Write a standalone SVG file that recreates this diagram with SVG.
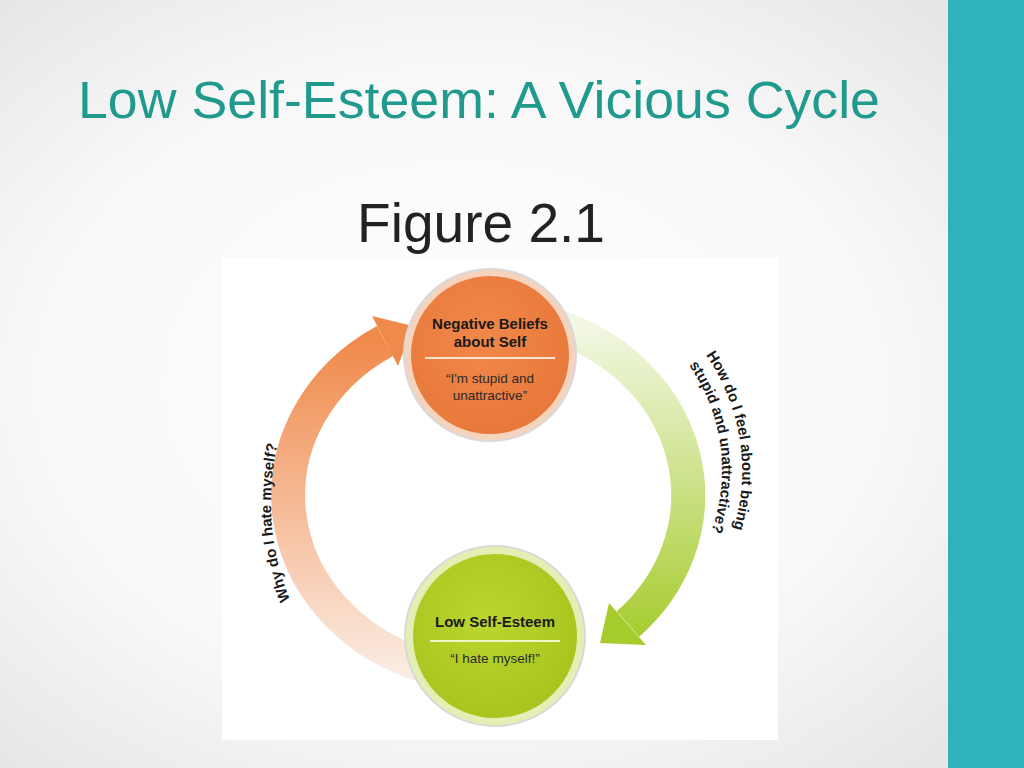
<svg xmlns="http://www.w3.org/2000/svg" width="1024" height="768" viewBox="0 0 1024 768">
<defs>
<radialGradient id="bg" cx="0.45" cy="0.5" r="0.7"><stop offset="0" stop-color="#ffffff"/><stop offset="0.6" stop-color="#f8f8f8"/><stop offset="1" stop-color="#e4e4e4"/></radialGradient>
<linearGradient id="og" gradientUnits="userSpaceOnUse" x1="0" y1="680" x2="0" y2="340"><stop offset="0" stop-color="#fbeee6"/><stop offset="1" stop-color="#f08a4b"/></linearGradient>
<linearGradient id="gg" gradientUnits="userSpaceOnUse" x1="0" y1="320" x2="0" y2="640"><stop offset="0" stop-color="#f3f8e6"/><stop offset="1" stop-color="#a6cc2e"/></linearGradient>
<radialGradient id="oc" cx="0.45" cy="0.4" r="0.6"><stop offset="0" stop-color="#f0884a"/><stop offset="1" stop-color="#e8793a"/></radialGradient>
<radialGradient id="gc" cx="0.45" cy="0.4" r="0.6"><stop offset="0" stop-color="#bcd630"/><stop offset="1" stop-color="#a8c41f"/></radialGradient>
<path id="lt" d="M 290 600 A 220 240 0 0 1 288 410"/>
<path id="rt1" d="M 706 355 A 254 225 0 0 1 716 570"/>
<path id="rt2" d="M 689 365 A 234 205 0 0 1 689 575"/>
</defs>
<style>
.t{font-family:"Liberation Sans",Arial,sans-serif}
.b{font-weight:bold;font-size:15px;fill:#1a1a1a;text-anchor:middle}
.q{font-size:13.5px;fill:#2a2a2a;text-anchor:middle}
.a{font-weight:bold;font-size:15px;fill:#1a1a1a}
</style>
<rect width="1024" height="768" fill="url(#bg)"/>
<rect x="948" y="0" width="76" height="768" fill="#2fb3bb"/>
<text class="t" x="78" y="118" font-size="51" fill="#1f9a8c" textLength="802" lengthAdjust="spacingAndGlyphs">Low Self-Esteem: A Vicious Cycle</text>
<text class="t" x="357" y="242" font-size="55" fill="#222" textLength="248" lengthAdjust="spacingAndGlyphs">Figure 2.1</text>
<rect x="222" y="258" width="556" height="482" fill="#ffffff"/>
<g id="connectors">
<path d="M 425 666 A 200 180 0 0 1 385 341" fill="none" stroke="url(#og)" stroke-width="34"/>
<polygon points="413,326 398,366 372,316" fill="#f08a4b"/>
<path d="M 553 325 A 200 180 0 0 1 628 624" fill="none" stroke="url(#gg)" stroke-width="34"/>
<polygon points="600,643 646,645 609,603" fill="#a6cc2e"/>
<text class="t a"><textPath href="#lt">Why do I hate myself?</textPath></text>
<text class="t a"><textPath href="#rt1">How do I feel about being</textPath></text>
<text class="t a"><textPath href="#rt2">stupid and unattractive?</textPath></text>
</g>
<g id="node-negative">
<circle cx="490" cy="355" r="86" fill="#f6d3bd" stroke="#d9d9d9" stroke-width="2"/>
<circle cx="490" cy="355" r="79" fill="url(#oc)"/>
<text class="t b" x="490" y="329">Negative Beliefs</text>
<text class="t b" x="490" y="347">about Self</text>
<line x1="425" y1="358" x2="555" y2="358" stroke="#fbe3d3" stroke-width="2"/>
<text class="t q" x="490" y="383">“I'm stupid and</text>
<text class="t q" x="490" y="400">unattractive”</text>
</g>
<g id="node-low">
<circle cx="495" cy="636" r="90" fill="#e4efb4" stroke="#d9d9d9" stroke-width="2"/>
<circle cx="495" cy="636" r="82" fill="url(#gc)"/>
<text class="t b" x="495" y="627">Low Self-Esteem</text>
<line x1="430" y1="641" x2="560" y2="641" stroke="#f0f6c8" stroke-width="2"/>
<text class="t q" x="495" y="663">“I hate myself!”</text>
</g>
</svg>
